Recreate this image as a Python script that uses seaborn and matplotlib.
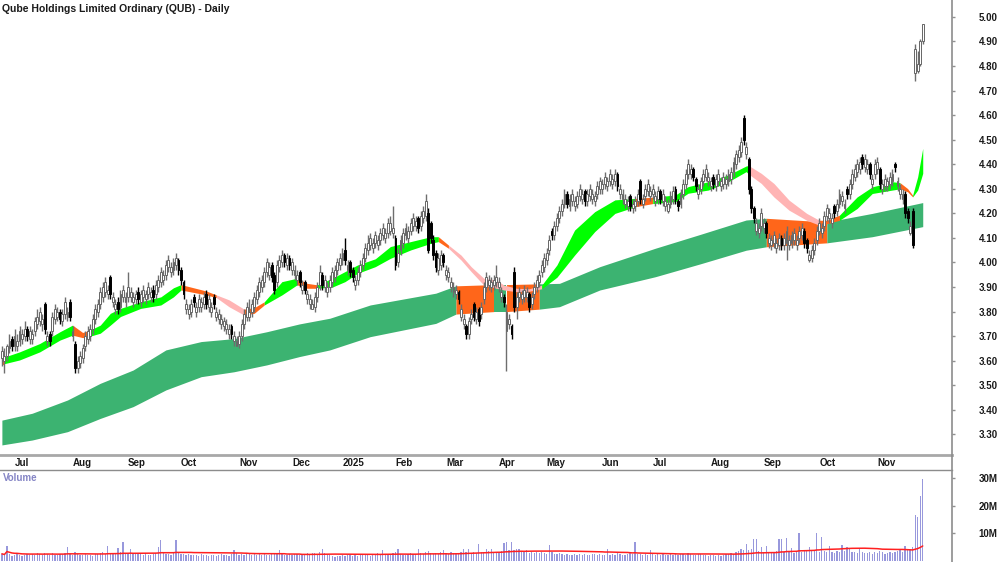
import numpy as np
import pandas as pd
import matplotlib
matplotlib.use("Agg")
import matplotlib.pyplot as plt
import matplotlib.transforms as mtransforms
from matplotlib.lines import Line2D
import seaborn as sns

# ASX trading days on the chart
start_date = "2024-06-25"
asx_holidays = ["2024-12-25", "2024-12-26", "2025-01-01", "2025-01-27",
                "2025-04-18", "2025-04-21", "2025-04-25", "2025-06-09"]

# daily prices in cents
opens = [
    361, 360, 362, 365, 369, 366, 366, 368, 369, 370, 373, 369, 369, 372, 375, 376, 375, 383, 368, 371,
    372, 377, 378, 380, 376, 379, 378, 384, 370, 367, 357, 359, 361, 366, 369, 370, 373, 377, 380, 383,
    386, 388, 387, 394, 384, 381, 384, 382, 386, 384, 386, 386, 384, 385, 388, 384, 386, 385, 387, 386,
    389, 387, 390, 392, 393, 395, 398, 396, 397, 399, 401, 397, 392, 381, 379, 380, 386, 380, 382, 382,
    383, 387, 382, 380, 386, 378, 377, 375, 374, 373, 371, 374, 368, 366, 367, 370, 375, 378, 378, 380,
    382, 385, 388, 390, 392, 396, 395, 399, 395, 392, 398, 400, 403, 399, 402, 397, 395, 393, 396, 389,
    392, 385, 383, 381, 382, 386, 391, 395, 390, 388, 390, 392, 394, 397, 399, 401, 405, 397, 400, 397,
    391, 393, 396, 399, 402, 405, 407, 406, 408, 407, 409, 411, 410, 412, 413, 412, 410, 400, 405, 408,
    411, 410, 413, 415, 415, 418, 415, 418, 419, 420, 416, 409, 404, 397, 399, 403, 395, 394, 390, 388,
    387, 388, 378, 375, 374, 371, 377, 383, 377, 381, 379, 385, 390, 391, 390, 391, 392, 390, 386, 386,
    372, 375, 374, 396, 382, 386, 385, 386, 386, 387, 383, 387, 390, 392, 396, 398, 401, 405, 413, 411,
    415, 418, 421, 424, 428, 423, 425, 423, 424, 427, 426, 429, 425, 427, 426, 425, 428, 430, 430, 432,
    431, 433, 432, 433, 436, 428, 426, 424, 423, 427, 422, 423, 425, 433, 424, 427, 429, 427, 428, 425,
    426, 429, 425, 423, 421, 424, 426, 430, 425, 424, 428, 432, 436, 436, 438, 434, 428, 430, 433, 435,
    433, 431, 435, 431, 433, 431, 432, 432, 433, 434, 437, 440, 443, 445, 459, 444, 442, 430, 422, 413,
    412, 415, 414, 416, 408, 407, 408, 406, 407, 410, 407, 408, 407, 408, 409, 407, 410, 411, 413, 409,
    401, 402, 405, 409, 413, 412, 415, 419, 418, 416, 423, 421, 424, 425, 422, 430, 428, 432, 435, 437,
    438, 443, 439, 438, 440, 432, 436, 438, 438, 430, 431, 431, 432, 433, 440, 431, 428, 426, 428, 421,
    412, 421, 477, 478, 481, 490,
]
highs = [
    366, 365, 367, 371, 370, 373, 371, 374, 373, 376, 374, 374, 373, 378, 381, 382, 379, 384, 372, 372,
    380, 383, 382, 381, 381, 386, 382, 385, 374, 368, 362, 364, 367, 372, 374, 375, 379, 383, 385, 390,
    392, 394, 391, 395, 388, 385, 386, 389, 391, 388, 396, 390, 388, 389, 390, 389, 391, 389, 392, 390,
    391, 393, 395, 398, 397, 401, 403, 400, 402, 404, 402, 398, 393, 385, 383, 385, 387, 384, 387, 386,
    388, 389, 387, 384, 387, 382, 381, 379, 378, 377, 375, 375, 372, 370, 372, 377, 381, 384, 385, 385,
    388, 391, 394, 395, 398, 402, 400, 400, 396, 401, 403, 405, 404, 404, 403, 402, 399, 397, 397, 393,
    393, 389, 387, 385, 388, 392, 399, 396, 395, 392, 395, 398, 399, 402, 404, 406, 410, 401, 401, 398,
    395, 398, 401, 404, 408, 411, 412, 410, 413, 411, 414, 416, 414, 418, 419, 423, 411, 406, 411, 414,
    416, 415, 418, 420, 419, 419, 421, 423, 428, 422, 417, 411, 405, 404, 405, 404, 399, 398, 394, 392,
    391, 389, 383, 379, 375, 378, 381, 384, 382, 382, 384, 392, 396, 395, 394, 395, 399, 394, 390, 387,
    383, 379, 375, 398, 388, 390, 389, 391, 390, 388, 388, 392, 395, 397, 401, 404, 406, 411, 414, 417,
    420, 423, 426, 430, 429, 428, 430, 427, 429, 432, 430, 430, 430, 432, 430, 429, 433, 435, 434, 437,
    435, 438, 436, 438, 437, 432, 430, 428, 427, 428, 426, 427, 430, 434, 428, 432, 434, 431, 432, 429,
    431, 430, 430, 427, 426, 429, 431, 431, 426, 430, 434, 438, 442, 440, 439, 435, 432, 435, 438, 440,
    437, 435, 436, 436, 438, 435, 437, 436, 438, 439, 443, 446, 448, 451, 460, 449, 443, 431, 423, 418,
    416, 422, 418, 417, 412, 411, 413, 410, 412, 411, 412, 415, 411, 413, 414, 411, 415, 416, 414, 410,
    405, 407, 410, 415, 418, 416, 421, 424, 422, 420, 424, 426, 430, 429, 426, 431, 434, 438, 440, 442,
    443, 444, 444, 442, 441, 436, 442, 443, 439, 434, 436, 435, 437, 438, 441, 435, 432, 430, 429, 422,
    417, 422, 489, 486, 491, 497,
]
lows = [
    358, 355, 360, 363, 364, 364, 364, 366, 367, 368, 368, 367, 367, 370, 373, 374, 372, 371, 366, 366,
    370, 375, 376, 375, 374, 377, 376, 376, 368, 355, 355, 357, 359, 364, 367, 368, 371, 375, 378, 381,
    384, 386, 385, 385, 382, 379, 379, 380, 384, 382, 384, 384, 382, 383, 383, 382, 384, 383, 385, 384,
    384, 385, 388, 390, 391, 393, 396, 394, 395, 397, 395, 391, 385, 379, 377, 378, 382, 378, 380, 380,
    381, 381, 380, 378, 381, 376, 375, 373, 372, 371, 369, 369, 366, 366, 365, 368, 373, 376, 376, 378,
    380, 383, 386, 388, 390, 394, 393, 392, 387, 390, 396, 398, 398, 397, 397, 395, 393, 391, 390, 387,
    387, 383, 381, 381, 380, 384, 389, 389, 388, 386, 388, 390, 392, 395, 397, 399, 399, 395, 394, 392,
    389, 391, 394, 397, 400, 403, 405, 404, 406, 405, 407, 409, 408, 410, 411, 410, 397, 398, 403, 406,
    409, 408, 411, 413, 413, 412, 413, 416, 417, 404, 408, 401, 396, 395, 397, 398, 393, 392, 388, 386,
    385, 383, 376, 373, 369, 369, 375, 376, 375, 374, 377, 383, 388, 389, 388, 389, 390, 388, 384, 382,
    356, 373, 369, 380, 377, 384, 383, 384, 384, 380, 381, 385, 388, 390, 394, 396, 399, 403, 409, 409,
    413, 416, 419, 422, 422, 421, 423, 421, 422, 425, 424, 423, 423, 425, 424, 423, 426, 428, 428, 430,
    429, 431, 430, 431, 429, 426, 424, 422, 421, 421, 420, 421, 423, 424, 422, 425, 427, 425, 426, 423,
    424, 424, 423, 421, 420, 422, 424, 424, 421, 422, 426, 430, 434, 434, 433, 429, 426, 428, 431, 433,
    431, 429, 430, 429, 431, 429, 430, 430, 431, 432, 435, 438, 441, 443, 448, 442, 428, 420, 416, 411,
    410, 413, 412, 410, 406, 405, 406, 404, 405, 405, 405, 401, 405, 406, 407, 405, 408, 409, 406, 404,
    400, 400, 403, 407, 411, 410, 413, 417, 416, 414, 418, 419, 422, 423, 420, 426, 426, 430, 433, 435,
    436, 438, 437, 436, 434, 430, 434, 436, 430, 428, 429, 429, 430, 431, 437, 429, 426, 424, 418, 416,
    411, 406, 474, 477, 480, 489,
]
closes = [
    364, 362, 366, 368, 366, 370, 368, 372, 371, 373, 370, 372, 371, 376, 378, 380, 377, 373, 370, 368,
    378, 381, 380, 377, 379, 384, 380, 378, 372, 357, 360, 362, 365, 370, 372, 373, 377, 381, 383, 388,
    390, 392, 389, 387, 386, 383, 381, 387, 389, 386, 390, 388, 386, 387, 385, 387, 389, 387, 390, 388,
    386, 391, 393, 396, 395, 399, 401, 398, 400, 402, 397, 393, 387, 383, 381, 383, 384, 382, 385, 384,
    386, 383, 385, 382, 383, 380, 379, 377, 376, 375, 373, 371, 370, 368, 370, 375, 379, 382, 380, 383,
    386, 389, 392, 393, 396, 400, 398, 394, 389, 399, 401, 403, 400, 402, 399, 400, 397, 395, 392, 391,
    389, 387, 385, 383, 386, 390, 396, 391, 393, 390, 393, 396, 397, 400, 402, 404, 401, 399, 396, 394,
    393, 396, 399, 402, 406, 408, 410, 408, 411, 409, 412, 414, 412, 416, 416, 414, 399, 404, 409, 412,
    414, 413, 416, 418, 417, 414, 419, 421, 425, 405, 410, 403, 398, 402, 403, 400, 397, 396, 392, 390,
    389, 385, 381, 377, 371, 376, 379, 378, 380, 376, 382, 390, 394, 393, 392, 393, 394, 392, 388, 384,
    380, 377, 371, 382, 386, 388, 387, 389, 388, 382, 386, 390, 393, 395, 399, 402, 404, 409, 411, 415,
    418, 421, 424, 428, 424, 426, 428, 425, 427, 430, 428, 425, 428, 430, 428, 427, 431, 433, 432, 435,
    433, 436, 434, 436, 431, 430, 428, 426, 425, 423, 424, 425, 428, 426, 426, 430, 432, 429, 430, 427,
    429, 426, 428, 425, 424, 427, 429, 426, 423, 428, 432, 436, 440, 438, 435, 431, 430, 433, 436, 438,
    435, 433, 432, 434, 436, 433, 435, 434, 436, 437, 441, 444, 446, 449, 450, 447, 430, 422, 418, 416,
    414, 420, 416, 412, 410, 409, 411, 408, 410, 407, 410, 413, 409, 411, 412, 409, 413, 414, 408, 406,
    403, 405, 408, 413, 416, 414, 419, 422, 420, 418, 420, 424, 428, 427, 424, 428, 432, 436, 438, 440,
    441, 440, 442, 440, 436, 434, 440, 441, 432, 432, 434, 433, 435, 436, 439, 433, 430, 428, 420, 418,
    415, 407, 487, 481, 490, 497,
]
# daily volume, millions of shares
volume = [
    2.6, 2.1, 5.5, 2.4, 1.9, 2.2, 2.7, 2.0, 1.8, 2.3, 2.5, 2.0, 2.6, 2.2, 2.9, 2.4, 2.1, 3.0, 2.6, 2.2,
    2.8, 2.3, 2.0, 2.6, 2.4, 2.9, 5.0, 2.7, 2.2, 3.4, 2.6, 2.3, 2.1, 2.5, 2.0, 2.2, 1.9, 2.4, 2.6, 2.8,
    3.1, 2.7, 5.5, 3.0, 2.6, 2.9, 4.8, 3.2, 6.8, 2.7, 2.9, 4.5, 3.0, 2.5, 2.4, 2.6, 2.2, 2.8, 2.3, 2.1,
    2.7, 3.0, 5.0, 7.5, 2.9, 2.5, 2.6, 2.2, 2.8, 7.5, 3.0, 2.6, 2.4, 2.2, 2.5, 2.0, 2.3, 2.1, 1.9, 2.4,
    2.2, 2.0, 1.8, 2.3, 2.1, 1.9, 2.2, 2.5, 2.0, 2.3, 1.8, 2.6, 4.0, 2.9, 2.2, 2.4, 2.0, 2.6, 2.8, 2.3,
    2.5, 2.1, 2.4, 2.0, 2.6, 2.2, 2.3, 2.9, 2.5, 2.7, 4.0, 2.6, 2.3, 2.2, 2.5, 2.0, 2.4, 2.7, 2.3, 2.1,
    2.5, 2.8, 2.2, 2.9, 3.0, 2.6, 3.2, 4.5, 2.8, 2.4, 2.0, 1.8, 1.6, 1.9, 1.7, 2.1, 1.8, 2.0, 2.2, 1.9,
    2.1, 1.8, 2.3, 2.0, 2.4, 2.2, 1.9, 2.5, 2.1, 2.8, 2.4, 3.8, 2.6, 2.2, 2.7, 2.9, 3.1, 4.5, 2.6, 2.3,
    2.1, 2.5, 2.8, 2.4, 2.6, 4.5, 2.9, 2.7, 3.2, 3.6, 2.8, 2.5, 3.0, 2.7, 3.3, 4.0, 2.9, 2.6, 3.1, 2.8,
    3.0, 2.7, 3.4, 4.2, 3.1, 4.5, 2.9, 3.3, 3.0, 6.0, 3.4, 3.1, 4.5, 3.5, 4.5, 3.2, 2.8, 3.0, 3.6, 6.5,
    6.8, 3.9, 6.8, 3.8, 4.5, 4.2, 3.6, 3.2, 3.9, 3.0, 3.3, 2.8, 3.1, 2.9, 3.4, 3.0, 2.6, 5.8, 3.2, 2.7,
    2.5, 2.9, 2.4, 2.2, 2.6, 2.3, 2.0, 2.4, 2.1, 2.5, 2.2, 2.6, 2.3, 2.0, 2.4, 2.7, 2.2, 2.5, 2.1, 2.3,
    4.5, 2.2, 2.6, 2.3, 2.8, 2.4, 2.0, 2.3, 2.6, 2.9, 2.5, 7.0, 2.4, 2.7, 2.2, 2.5, 2.3, 4.0, 2.6, 2.0,
    2.4, 2.1, 2.6, 2.2, 2.0, 2.5, 2.3, 2.7, 2.1, 2.4, 2.6, 2.3, 2.9, 2.5, 2.2, 2.0, 2.4, 2.7, 2.2, 2.0,
    1.8, 2.1, 2.3, 1.9, 2.2, 1.7, 2.0, 2.4, 2.6, 2.9, 2.7, 3.2, 3.5, 4.5, 3.8, 6.2, 4.0, 4.4, 8.0, 7.9,
    3.6, 5.0, 3.2, 5.5, 3.0, 3.4, 3.1, 3.6, 7.8, 7.8, 3.3, 8.4, 3.5, 4.6, 3.0, 3.2, 10.2, 3.4, 3.8, 3.5,
    5.0, 3.6, 3.9, 10.0, 3.3, 8.5, 3.7, 3.2, 5.5, 3.4, 3.0, 3.5, 3.2, 5.8, 3.6, 5.0, 4.8, 3.3, 3.1, 2.9,
    4.5, 3.4, 3.0, 2.8, 3.3, 2.6, 3.1, 2.9, 3.5, 3.2, 2.7, 3.0, 3.4, 2.8, 3.2, 3.6, 3.9, 3.1, 5.5, 3.8,
    4.2, 5.0, 16.5, 15.8, 23.5, 29.5,
]

# short-term EMA ribbon (node = trading day index), trend: u rising, x tangled, d falling
short_idx = [0, 1, 7, 15, 23, 28, 32, 35, 39, 43, 47, 55, 63, 68, 71, 81, 85, 90, 96, 100,
             104, 111, 117, 121, 125, 131, 136, 141, 148, 154, 162, 170, 173, 177, 182, 186, 191, 196, 199, 204,
             209, 214, 220, 227, 235, 243, 251, 258, 267, 272, 280, 288, 295, 296, 301, 306, 312, 319, 324, 327,
             332, 339, 345, 353, 356, 359, 361, 363, 365]
short_top = [3.609, 3.615, 3.636, 3.67, 3.718, 3.745, 3.715, 3.725, 3.745, 3.793, 3.813, 3.84, 3.86, 3.897, 3.91,
             3.884, 3.868, 3.848, 3.81, 3.816, 3.84, 3.922, 3.936, 3.915, 3.909, 3.936, 3.963, 3.99, 4.015, 4.065,
             4.085, 4.105, 4.105, 4.071, 4.03, 3.983, 3.936, 3.929, 3.908, 3.895, 3.893, 3.908, 3.99, 4.132, 4.207,
             4.255, 4.261, 4.266, 4.275, 4.309, 4.329, 4.357, 4.393, 4.395, 4.363, 4.322, 4.254, 4.20, 4.172, 4.172,
             4.193, 4.267, 4.308, 4.329, 4.325, 4.301, 4.274, 4.349, 4.465]
short_bot = [3.582, 3.588, 3.603, 3.636, 3.684, 3.704, 3.694, 3.70, 3.712, 3.745, 3.78, 3.813, 3.827, 3.86, 3.888,
             3.868, 3.857, 3.82, 3.786, 3.793, 3.827, 3.868, 3.909, 3.895, 3.895, 3.90, 3.922, 3.956, 3.983, 4.017,
             4.051, 4.078, 4.085, 4.058, 4.01, 3.963, 3.908, 3.895, 3.888, 3.881, 3.883, 3.893, 3.94, 4.03, 4.126,
             4.20, 4.227, 4.24, 4.248, 4.282, 4.295, 4.329, 4.37, 4.36, 4.322, 4.267, 4.213, 4.172, 4.152, 4.158,
             4.172, 4.22, 4.281, 4.295, 4.30, 4.288, 4.267, 4.295, 4.363]
short_trend = "xuuuuxxuuuuuuuxxddxxuuxxuuuuuuuuxdddddddduuuuuxuuuuuudddddxxuuuuxxuuu"

# long-term EMA ribbon
long_idx = [0, 12, 26, 39, 52, 65, 79, 92, 105, 118, 130, 146, 172, 180, 195, 200, 213, 221, 237, 259,
            277, 295, 303, 327, 345, 365]
long_top = [3.358, 3.386, 3.44, 3.508, 3.562, 3.644, 3.678, 3.69, 3.718, 3.75, 3.773, 3.827, 3.875, 3.905, 3.91,
            3.91, 3.913, 3.915, 3.983, 4.058, 4.115, 4.173, 4.18, 4.165, 4.20, 4.244]
long_bot = [3.257, 3.277, 3.311, 3.365, 3.413, 3.481, 3.535, 3.555, 3.583, 3.617, 3.644, 3.698, 3.752, 3.79, 3.80,
            3.80, 3.81, 3.82, 3.888, 3.942, 3.995, 4.05, 4.064, 4.08, 4.105, 4.146]
long_trend = "uuuuuuuuuuuuuxuxuuuuuuxuuu"

price_ticks = [3.3, 3.4, 3.5, 3.6, 3.7, 3.8, 3.9, 4.0, 4.1, 4.2, 4.3, 4.4, 4.5, 4.6, 4.7, 4.8, 4.9, 5.0]
volume_ticks = [10, 20, 30]

short_colors = {"u": "#00ff00", "x": "#ff661a", "d": "#ffb4b4"}
long_colors = {"u": "#3cb371", "x": "#ff661a"}

n = len(closes)
dates = pd.bdate_range(start_date, periods=n, freq="C", holidays=asx_holidays)
df = pd.DataFrame({
    "day": np.arange(n),
    "open": np.array(opens) / 100,
    "high": np.array(highs) / 100,
    "low": np.array(lows) / 100,
    "close": np.array(closes) / 100,
    "volume": volume,
})
df["vol_ma"] = df["volume"].rolling(50, min_periods=1).mean()

sns.set_style("white")
plt.rcParams["font.family"] = ["Liberation Sans", "DejaVu Sans"]

fig = plt.figure(figsize=(10, 5.62), dpi=100)
ax = fig.add_axes([0, 1 - 455 / 562, 0.952, 455 / 562])
axv = fig.add_axes([0, 0, 0.952, 92 / 562])


def fill_ribbon(ax, idx, top, bot, trend, palette):
    # group runs of the same trend so the fills have no seams
    start = 0
    for k in range(1, len(idx)):
        if k == len(idx) - 1 or trend[k] != trend[start]:
            ax.fill_between(idx[start:k + 1], bot[start:k + 1], top[start:k + 1],
                            color=palette[trend[start]], lw=0, zorder=1)
            start = k


fill_ribbon(ax, long_idx, long_top, long_bot, long_trend, long_colors)
fill_ribbon(ax, short_idx, short_top, short_bot, short_trend, short_colors)

# candles
up = (df["close"] >= df["open"]).to_numpy()
body_lo = np.minimum(df["open"], df["close"])
body_h = np.maximum((df["close"] - df["open"]).abs(), 0.003)
ax.vlines(df["day"], df["low"], df["high"], colors=np.where(up, "#6e6e6e", "black"), lw=1.0, zorder=3)
ax.bar(df["day"], body_h, bottom=body_lo, width=0.75,
       color=np.where(up, "white", "black"), edgecolor=np.where(up, "#666666", "black"),
       lw=0.7, zorder=4)

ax.set_xlim(-0.75, 376.6)
ax.set_ylim(3.216, 5.069)

# month ticks and labels
is_new = np.r_[False, np.asarray(dates.month)[1:] != np.asarray(dates.month)[:-1]]
month_days = df["day"][is_new].to_numpy()
month_labels = [str(d.year) if d.month == 1 else d.strftime("%b") for d in dates[is_new]]
ax.set_xticks(month_days)
ax.set_xticklabels([])
ax.tick_params(axis="x", direction="out", length=2.5, width=1, color="#909090")
lab_trans = mtransforms.blended_transform_factory(ax.transData, ax.transAxes) + \
    mtransforms.ScaledTranslation(0.025, 0, fig.dpi_scale_trans)
for d, lab in zip(month_days, month_labels):
    ax.text(d, -0.0165, lab, transform=lab_trans, ha="left", va="center",
            fontsize=7, fontweight="bold", color="#1a1a1a", clip_on=False)

ax.yaxis.tick_right()
ax.set_yticks(price_ticks)
ax.set_yticklabels([f"{v:.2f}" for v in price_ticks], fontsize=7, fontweight="bold", color="#1a1a1a")
ax.tick_params(axis="y", direction="out", length=2.5, width=1, color="#909090", pad=16.5)

for side in ["top", "left", "right"]:
    ax.spines[side].set_visible(False)
ax.spines["bottom"].set_color("#a8a8a8")
ax.spines["bottom"].set_linewidth(2)

ax.text(0.002, 1 - 8.5 / 455, "Qube Holdings Limited Ordinary (QUB) - Daily", transform=ax.transAxes,
        ha="left", va="center", fontsize=7.5, fontweight="bold", color="#1a1a1a")

# volume panel
sns.barplot(x=df["day"], y=df["volume"], native_scale=True, color="#9898dc", saturation=1,
            width=0.5, errorbar=None, linewidth=0, edgecolor="none", ax=axv)
sns.lineplot(x=df["day"], y=df["vol_ma"], color="#ff2020", lw=1.1, ax=axv)
axv.set_xlim(-0.75, 376.6)
axv.set_ylim(-0.36, 32.85)
axv.set_xlabel("")
axv.set_ylabel("")
axv.set_xticks([])
axv.yaxis.tick_right()
axv.set_yticks(volume_ticks)
axv.set_yticklabels([f"{v}M" for v in volume_ticks], fontsize=7, fontweight="bold", color="#1a1a1a")
axv.tick_params(axis="y", direction="out", length=2.5, width=1, color="#909090", pad=16.5)
for side in ["bottom", "left", "right"]:
    axv.spines[side].set_visible(False)
axv.spines["top"].set_color("#8c8c8c")
axv.spines["top"].set_linewidth(1)
axv.text(0.003, 1 - 8 / 92, "Volume", transform=axv.transAxes, ha="left", va="center",
         fontsize=7, fontweight="bold", color="#8585c5")

fig.add_artist(Line2D([0.952, 0.952], [0, 1], transform=fig.transFigure, color="#8c8c8c", lw=1.2))

fig.savefig("out.png", dpi=100)
